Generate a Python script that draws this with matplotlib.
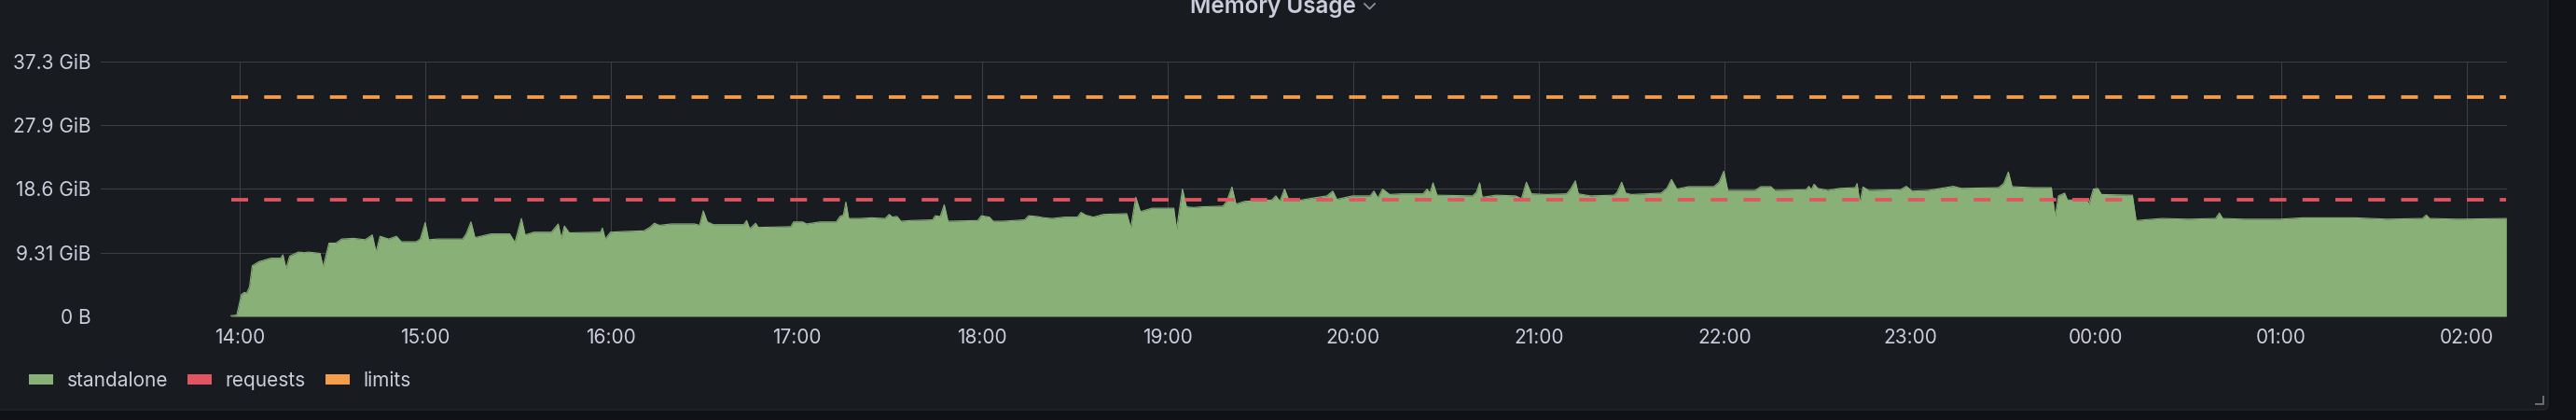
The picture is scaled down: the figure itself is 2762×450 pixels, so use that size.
import matplotlib
matplotlib.use("Agg")
import matplotlib.pyplot as plt
import matplotlib.dates as mdates
from matplotlib.patches import FancyBboxPatch, Patch
from matplotlib.lines import Line2D
import pandas as pd

# minutes after 14:00 and memory of the "standalone" pod in GiB
minutes = [
    -2.8, -0.9, 0.6, 1.5, 2.3, 3.2, 4.1, 6.3, 10.1, 13.3, 14.0, 15.0, 16.2, 19.0, 20.9, 22.2,
    26.0, 27.0, 28.9, 31.1, 33.0, 36.8, 40.6, 42.9, 44.1, 45.4, 48.2, 50.7, 52.3, 57.1, 58.4,
    60.0, 61.1, 64.1, 72.1, 73.2, 74.8, 76.1, 81.2, 87.3, 89.0, 91.1, 92.3, 95.1, 100.8, 103.0,
    104.0, 105.0, 106.6, 116.7, 117.3, 118.2, 119.9, 124.3, 130.7, 132.6, 134.1, 135.7, 139.5,
    147.1, 148.7, 149.9, 151.2, 153.2, 163.0, 163.9, 164.9, 166.8, 167.7, 178.2, 179.1, 182.0,
    183.3, 187.7, 192.9, 194.1, 195.2, 196.0, 196.9, 200.5, 204.3, 208.7, 210.0, 211.0, 212.5,
    213.8, 217.0, 224.0, 224.9, 226.5, 227.8, 229.0, 238.6, 239.8, 242.4, 243.6, 246.8, 253.8,
    255.1, 257.6, 260.1, 262.7, 266.5, 270.9, 272.0, 273.5, 276.0, 279.2, 286.8, 288.1, 289.7,
    291.2, 295.0, 302.0, 302.9, 304.8, 306.1, 308.4, 310.9, 317.9, 319.1, 320.8, 322.1, 324.9,
    333.7, 335.0, 336.3, 337.8, 339.1, 342.0, 345.8, 351.5, 353.4, 354.7, 359.8, 365.5, 366.7,
    368.0, 369.5, 371.8, 375.6, 382.6, 383.9, 384.8, 385.8, 387.1, 398.6, 399.8, 400.9, 401.7,
    406.2, 412.5, 414.4, 416.0, 417.6, 422.7, 429.0, 430.3, 431.8, 432.8, 436.6, 444.3, 445.3,
    446.8, 448.1, 450.0, 459.5, 461.4, 462.9, 464.6, 468.4, 476.6, 478.3, 479.8, 481.1, 489.9,
    491.8, 495.0, 496.3, 506.4, 507.3, 508.1, 509.0, 510.2, 513.4, 517.2, 522.3, 522.9, 523.8,
    524.8, 526.7, 536.9, 538.8, 540.7, 545.8, 554.0, 556.6, 568.6, 570.3, 571.8, 573.0, 579.8,
    585.7, 586.9, 588.0, 590.0, 590.9, 597.2, 597.8, 599.3, 600.7, 601.9, 611.9, 613.1, 615.7,
    621.5, 630.0, 638.8, 640.0, 641.1, 648.0, 659.6, 667.0, 675.7, 683.8, 694.2, 705.7, 706.9,
    708.0, 717.3, 732.8,
]
standalone = [
    0.1, 0.2, 3.2, 3.5, 3.4, 4.3, 7.4, 8.0, 8.5, 8.5, 9.0, 7.0, 8.8, 9.4, 9.3, 9.4,
    9.2, 7.2, 10.7, 10.7, 11.3, 11.4, 11.2, 11.9, 9.4, 11.7, 11.3, 11.7, 10.9, 10.9, 11.3,
    13.7, 11.2, 11.3, 11.3, 12.0, 13.8, 11.5, 12.05, 12.05, 10.8, 14.3, 11.9, 12.3, 12.3, 13.5,
    11.4, 13.2, 12.2, 12.3, 12.9, 11.3, 12.3, 12.4, 12.5, 13.0, 13.6, 13.3, 13.5,
    13.5, 13.3, 15.4, 13.8, 13.4, 13.4, 14.0, 12.8, 13.6, 13.0, 13.1, 13.8, 13.8,
    13.5, 13.8, 13.8, 14.6, 14.8, 16.7, 14.3, 14.3, 14.4, 14.3, 14.9, 14.5, 14.6,
    13.9, 14.0, 14.1, 14.7, 14.6, 16.3, 13.9, 14.0, 14.7, 14.5, 13.9, 13.9, 14.1,
    14.7, 14.6, 14.4, 14.3, 14.5, 14.5, 15.2, 14.8, 14.5, 14.9, 15.0, 12.9, 17.4,
    15.3, 15.8, 15.8, 12.7, 18.6, 16.0, 15.9, 16.0, 16.1, 16.8, 18.9, 16.4, 16.8,
    17.0, 17.6, 16.8, 18.6, 17.1, 16.9, 17.2, 17.6, 18.3, 17.1, 17.6, 17.6, 18.3,
    17.3, 18.6, 17.8, 17.9, 17.9, 18.6, 18.0, 19.5, 17.7, 17.6, 18.1, 19.5, 17.4,
    17.7, 17.6, 17.2, 19.6, 17.9, 17.8, 17.9, 18.6, 19.8, 17.9, 17.6, 17.7, 18.1,
    19.6, 18.0, 17.8, 18.0, 18.7, 20.0, 18.6, 18.95, 18.95, 19.6, 21.2, 18.4, 18.4,
    18.95, 18.95, 18.4, 18.5, 19.0, 18.5, 19.3, 18.7, 18.4, 18.7, 18.8, 19.4, 16.6,
    18.9, 18.4, 18.5, 19.0, 18.3, 18.4, 19.0, 18.7, 18.8, 19.4, 21.1, 18.95, 18.8,
    18.8, 14.6, 17.6, 18.0, 17.0, 17.0, 16.3, 18.6, 18.7, 17.8, 17.7, 14.0, 14.1,
    14.3, 14.2, 14.3, 15.1, 14.3, 14.2, 14.2, 14.4, 14.4, 14.4, 14.2, 14.3, 14.8,
    14.3, 14.2, 14.3,
]
requests_gib = 17.0
limits_gib = 32.0

y_ticks = [0, 9.3132, 18.6265, 27.9397, 37.2529]
y_tick_labels = ["0 B", "9.31 GiB", "18.6 GiB", "27.9 GiB", "37.3 GiB"]
series_names = ["standalone", "requests", "limits"]
series_colors = ["#88b077", "#e05561", "#f59d48"]

BASE = pd.Timestamp("2024-01-01 14:00")
VIEW_MIN = (-44.8, 733.0)

BG = "#181b1f"
PAGE = "#111217"
TEXT = "#ccccdc"
GRID = "#3b3d43"

plt.rcParams["font.family"] = ["Inter", "DejaVu Sans"]

times = BASE + pd.to_timedelta(minutes, unit="min")
t0, t1 = times[0], times[-1]

fig = plt.figure(figsize=(27.62, 4.5), dpi=100)
fig.patch.set_facecolor(PAGE)

# the grafana panel card, kept behind the axes
panel = FancyBboxPatch((-0.3, 0.11), 27.32 + 0.3, 5.0, boxstyle="round,pad=0,rounding_size=0.06",
                       transform=fig.dpi_scale_trans, facecolor=BG, edgecolor="#23252b",
                       linewidth=1, zorder=-5)
fig.patches.append(panel)

ax = fig.add_axes([108.3 / 2762, 111 / 450, (2688 - 108.3) / 2762, (339 - 65.7) / 450])
ax.set_facecolor(BG)

ax.fill_between(times, standalone, 0, color=series_colors[0], linewidth=0, zorder=2)
ax.plot(times, standalone, color=series_colors[0], linewidth=0.8, zorder=3)
ax.plot([t0, t1], [requests_gib, requests_gib], color=series_colors[1], linewidth=2.7,
        dashes=(4.8, 4.6), zorder=4)
ax.plot([t0, t1], [limits_gib, limits_gib], color=series_colors[2], linewidth=2.7,
        dashes=(4.8, 4.6), zorder=4)

ax.set_xlim(BASE + pd.Timedelta(minutes=VIEW_MIN[0]), BASE + pd.Timedelta(minutes=VIEW_MIN[1]))
ax.set_ylim(0, y_ticks[-1])
ax.set_yticks(y_ticks)
ax.set_yticklabels(y_tick_labels)
ax.xaxis.set_major_locator(mdates.HourLocator(interval=1))
ax.xaxis.set_major_formatter(mdates.DateFormatter("%H:%M"))

ax.grid(True, color=GRID, linewidth=0.8, zorder=1)
ax.set_axisbelow(True)
for s in ax.spines.values():
    s.set_visible(False)
ax.tick_params(axis="both", length=0, colors=TEXT, labelsize=15)
ax.tick_params(axis="x", pad=9)
ax.tick_params(axis="y", pad=8)

# title with the little chevron
fig.text(13.65, 4.36, "Memory Usage", transform=fig.dpi_scale_trans, ha="center", va="baseline",
         fontsize=17.5, fontweight="semibold", color=TEXT)
fig.add_artist(Line2D([14.63, 14.685, 14.74], [4.46, 4.405, 4.46], transform=fig.dpi_scale_trans,
                      color="#8e8e9e", linewidth=1.3))

# resize handle in the corner
fig.add_artist(Line2D([27.19, 27.265, 27.265], [0.17, 0.17, 0.25], transform=fig.dpi_scale_trans,
                      color="#6e6f75", linewidth=1.4))

handles = [Patch(facecolor=c, edgecolor="none") for c in series_colors]
fig.legend(handles, series_names, loc="center left", bbox_to_anchor=(31 / 2762, 42 / 450),
           ncol=3, frameon=False, fontsize=15, labelcolor=TEXT, handlelength=1.25,
           handleheight=0.4, handletextpad=0.7, columnspacing=1.0, borderpad=0,
           borderaxespad=0)

fig.savefig("out.png", dpi=100, facecolor=fig.get_facecolor())
